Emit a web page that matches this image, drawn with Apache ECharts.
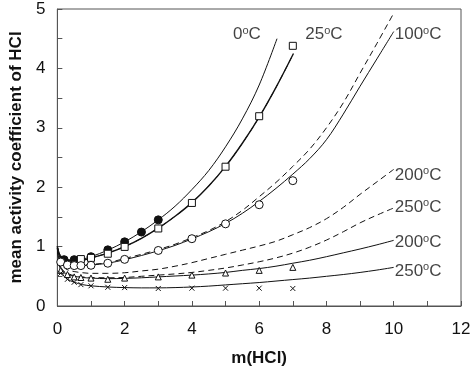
<!DOCTYPE html>
<html>
<head>
<meta charset="utf-8">
<script src="https://cdn.jsdelivr.net/npm/echarts@6/dist/echarts.min.js"></script>
<style>html,body{margin:0;padding:0;background:#fff}#c{width:474px;height:372px}</style>
</head>
<body>
<div id="c"></div>
<script>
// ---- data (m = molality of HCl, g = mean activity coefficient) ----
const xTicks = [0, 2, 4, 6, 8, 10, 12];
const yTicks = [0, 1, 2, 3, 4, 5];

// model curves
const m0c = [0,0.05,0.1,0.2,0.3,0.5,0.75,1,1.5,2,2.5,3,3.5,4,4.5,5,5.5,6,6.53];
const g0c = [1.0,0.9,0.85,0.8,0.78,0.77,0.79,0.83,0.94,1.08,1.25,1.45,1.68,1.96,2.28,2.68,3.15,3.72,4.5];

const m25c = [0,0.05,0.1,0.2,0.3,0.5,0.75,1,1.5,2,2.5,3,3.5,4,4.5,5,5.5,6,6.5,7.02];
const g25c = [1.0,0.88,0.83,0.79,0.77,0.76,0.77,0.81,0.89,1.0,1.14,1.31,1.51,1.74,2.02,2.35,2.74,3.18,3.68,4.25];

const mHot = [0,0.05,0.1,0.2,0.3,0.5,0.75,1,1.5,2,2.5,3,3.5,4,4.5,5,5.5,6,6.5,7,7.5,8,8.5,9,9.5,10];
const g100solid = [1.0,0.85,0.79,0.73,0.7,0.68,0.68,0.69,0.72,0.78,0.85,0.93,1.02,1.13,1.25,1.39,1.56,1.76,1.98,2.22,2.48,2.8,3.23,3.7,4.16,4.62];
const g100dash  = [1.0,0.85,0.79,0.73,0.7,0.69,0.69,0.7,0.73,0.8,0.87,0.95,1.04,1.15,1.27,1.42,1.61,1.84,2.08,2.35,2.64,3.0,3.42,3.92,4.42,4.93];
const g200dash  = [0.97,0.8,0.72,0.65,0.61,0.58,0.56,0.55,0.55,0.56,0.59,0.62,0.67,0.73,0.8,0.87,0.94,1.01,1.09,1.2,1.32,1.47,1.66,1.88,2.09,2.3];
const g250dash  = [0.97,0.75,0.66,0.58,0.55,0.51,0.49,0.48,0.475,0.48,0.5,0.52,0.54,0.565,0.6,0.64,0.69,0.745,0.81,0.89,0.99,1.11,1.25,1.4,1.53,1.65];
const g200solid = [0.97,0.75,0.65,0.56,0.53,0.5,0.48,0.47,0.46,0.465,0.475,0.49,0.505,0.52,0.54,0.565,0.6,0.63,0.67,0.72,0.77,0.83,0.895,0.96,1.03,1.105];
const g250solid = [0.97,0.7,0.6,0.5,0.45,0.4,0.36,0.34,0.32,0.31,0.305,0.305,0.31,0.32,0.335,0.355,0.375,0.395,0.42,0.445,0.47,0.5,0.53,0.565,0.605,0.65];

// experimental points
const m0pts = [0.2,0.5,1,1.5,2,2.5,3];
const g0pts = [0.78,0.78,0.83,0.945,1.08,1.245,1.45];

const m25pts = [0.7,1,1.5,2,3,4,5,6,7];
const g25pts = [0.79,0.81,0.88,0.995,1.305,1.735,2.345,3.195,4.38];

const m100pts = [0.1,0.3,0.5,0.7,1,1.5,2,3,4,5,6,7];
const g100pts = [0.74,0.69,0.68,0.68,0.685,0.72,0.785,0.935,1.133,1.383,1.705,2.11];

const m200pts = [0.1,0.3,0.5,0.7,1,1.5,2,3,4,5,6,7];
const g200pts = [0.6,0.53,0.49,0.48,0.47,0.45,0.47,0.49,0.52,0.555,0.6,0.65];

const m250pts = [0.1,0.3,0.5,0.7,1,1.5,2,3,4,5,6,7];
const g250pts = [0.55,0.45,0.4,0.36,0.34,0.315,0.31,0.295,0.3,0.3,0.3,0.295];

// curve labels (temperature text, anchor in data coords: left edge, vertical centre)
const labelText = ['0','25','100','200','250','200','250'];
const labelM    = [5.22, 7.37, 10.03, 10.03, 10.03, 10.03, 10.03];
const labelG    = [4.57, 4.57, 4.57, 2.2, 1.667, 1.067, 0.583];

// ---- build ----
const FONT = "'Liberation Sans', Arial, Helvetica, sans-serif";
const zip = (xs, ys) => xs.map((x, i) => [x, ys[i]]);

function curve(xs, ys, dashed, width) {
  return {
    type: 'line', data: zip(xs, ys), smooth: 0.35, showSymbol: false, symbol: 'none',
    lineStyle: { color: '#111', width: width || 1, type: dashed ? [6, 4] : 'solid' },
    silent: true, z: 2, animation: false
  };
}
function pts(xs, ys, symbol, size, fill) {
  return {
    type: 'scatter', data: zip(xs, ys), symbol: symbol, symbolSize: size,
    itemStyle: { color: fill, borderColor: '#111', borderWidth: 1, opacity: 1 },
    silent: true, z: 5, animation: false
  };
}

const series = [
  curve(m0c, g0c, false, 1),
  curve(m25c, g25c, false, 1.4),
  curve(m25c, g25c, true, 1),
  curve(mHot, g100solid, false, 1),
  curve(mHot, g100dash, true, 1),
  curve(mHot, g200dash, true, 1),
  curve(mHot, g250dash, true, 1),
  curve(mHot, g200solid, false, 1),
  curve(mHot, g250solid, false, 1),
  pts(m0pts, g0pts, 'circle', 8, '#111'),
  pts(m25pts, g25pts, 'rect', 7, '#fff'),
  pts(m100pts, g100pts, 'circle', 8, '#fff'),
  pts(m200pts, g200pts, 'triangle', 6, '#fff'),
  pts(m250pts, g250pts, 'path://M0,0L10,10M10,0L0,10', 5, 'none'),
  {
    type: 'scatter', symbolSize: 0, silent: true, z: 6, animation: false,
    data: labelText.map((t, i) => ({ value: [labelM[i], labelG[i]], t: t })),
    label: {
      show: true, position: 'right', distance: 0,
      formatter: p => '{n|' + p.data.t + '}{s|o}{n|C}',
      rich: {
        n: { fontFamily: FONT, fontSize: 17, lineHeight: 19, color: '#111' },
        s: { fontFamily: FONT, fontSize: 11, lineHeight: 11, verticalAlign: 'top', color: '#111' }
      }
    }
  }
];

const chart = echarts.init(document.getElementById('c'), null, { renderer: 'canvas' });
chart.setOption({
  animation: false,
  backgroundColor: '#fff',
  grid: { left: 47, right: 13, top: 9, bottom: 63, show: true, borderColor: '#555', borderWidth: 1 },
  xAxis: {
    type: 'value', min: xTicks[0], max: xTicks[xTicks.length - 1], interval: 2,
    name: 'm(HCl)', nameLocation: 'middle', nameGap: 44,
    nameTextStyle: { fontFamily: FONT, fontSize: 17, fontWeight: 'bold', color: '#111' },
    axisLine: { show: true, lineStyle: { color: '#555', width: 1 } },
    axisTick: { show: true, inside: true, length: 5, lineStyle: { color: '#555' } },
    minorTick: { show: true, splitNumber: 2, length: 5, lineStyle: { color: '#555' } },
    axisLabel: { fontFamily: FONT, fontSize: 17, color: '#111', margin: 15 },
    splitLine: { show: false }
  },
  yAxis: {
    type: 'value', min: yTicks[0], max: yTicks[yTicks.length - 1], interval: 1,
    name: 'mean activity coefficient of HCl', nameLocation: 'middle', nameGap: 29,
    nameTextStyle: { fontFamily: FONT, fontSize: 17, fontWeight: 'bold', color: '#111' },
    axisLine: { show: true, lineStyle: { color: '#555', width: 1 } },
    axisTick: { show: true, inside: true, length: 5, lineStyle: { color: '#555' } },
    minorTick: { show: true, splitNumber: 2, length: 5, lineStyle: { color: '#555' } },
    axisLabel: { fontFamily: FONT, fontSize: 17, color: '#111', margin: 12 },
    splitLine: { show: false }
  },
  series: series
});
</script>
</body>
</html>
